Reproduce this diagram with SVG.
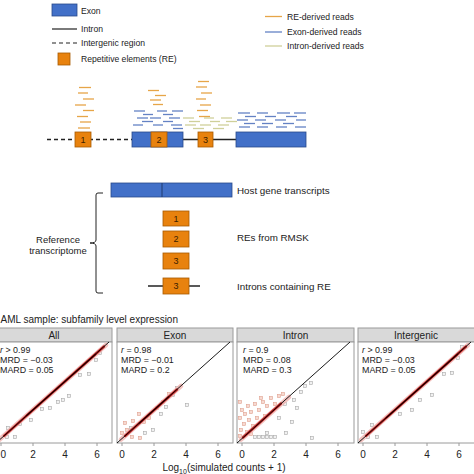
<svg xmlns="http://www.w3.org/2000/svg" width="474" height="474" viewBox="0 0 474 474">
<style>
text{font-family:"Liberation Sans",Arial,sans-serif;fill:#222}
.lg{font-size:8.6px}
.md{font-size:9.8px}
.st{font-size:8.9px}
.tk{font-size:10px;text-anchor:middle}
.strip{font-size:10px;text-anchor:middle}
.exon{fill:#4270c8;stroke:#2a4a8a;stroke-width:0.8}
.re{fill:#e8820e;stroke:#a85a00;stroke-width:0.8}
.ren{font-size:9px;text-anchor:middle;fill:#3a2000}
.rr{stroke:#e6a548;stroke-width:1.3}
.er{stroke:#6482c4;stroke-width:1.3}
.ir{stroke:#cfd09a;stroke-width:1.3}
.frame{fill:#fff;stroke:#9a9a9a;stroke-width:1}
.sbox{fill:#d9d9d9;stroke:#9a9a9a;stroke-width:1}
.pt{fill:#e4e4e4;fill-opacity:0.5;stroke:#a8a8a8;stroke-width:0.6}
.pk{fill:#f2c0b0;fill-opacity:0.6;stroke:#e0a090;stroke-width:0.6}
.band1{stroke:#f0b4b0;stroke-width:4.5;stroke-linecap:round;fill:none;opacity:0.8}
.band2{stroke:#b82020;stroke-width:2.4;stroke-linecap:round;fill:none}
.band3{stroke:#5a0000;stroke-width:1.3;fill:none}
.diag{stroke:#000;stroke-width:0.9}
.tick{stroke:#9a9a9a;stroke-width:1}
</style>

<g id="legend-left">
  <rect class="exon" x="52" y="4" width="25" height="12"/>
  <text class="lg" x="81" y="14">Exon</text>
  <line x1="52" y1="29" x2="77" y2="29" stroke="#222" stroke-width="1.2"/>
  <text class="lg" x="81" y="32">Intron</text>
  <line x1="52" y1="43" x2="77" y2="43" stroke="#222" stroke-width="1.2" stroke-dasharray="4,3"/>
  <text class="lg" x="81" y="46">Intergenic region</text>
  <rect class="re" x="58" y="53" width="12" height="12"/>
  <text class="lg" x="81" y="62">Repetitive elements (RE)</text>
</g>

<g id="legend-right">
  <line class="rr" x1="265" y1="16.5" x2="282" y2="16.5"/>
  <text class="lg" x="287" y="19.5">RE-derived reads</text>
  <line class="er" x1="265" y1="32" x2="282" y2="32"/>
  <text class="lg" x="287" y="35">Exon-derived reads</text>
  <line class="ir" x1="265" y1="46" x2="282" y2="46"/>
  <text class="lg" x="287" y="49">Intron-derived reads</text>
</g>

<g id="connectors">
  <line x1="47" y1="139.5" x2="132" y2="139.5" stroke="#222" stroke-width="1.3" stroke-dasharray="4,3"/>
  <line x1="183" y1="139.5" x2="236" y2="139.5" stroke="#222" stroke-width="1.3"/>
  <line x1="148" y1="286" x2="200" y2="286" stroke="#222" stroke-width="1.3"/>
  <path d="M103,193 L98,193 Q96,193 96,195 L96,240 Q96,243 90,243 Q96,243 96,246 L96,291 Q96,293 98,293 L103,293" fill="none" stroke="#222" stroke-width="1"/>
</g>

<g id="gene-structure">
  <rect class="exon" x="132" y="132" width="51" height="15"/>
  <rect class="exon" x="236" y="132" width="70" height="15"/>
  <g id="re1"><rect class="re" x="75" y="132" width="16" height="15"/><text class="ren" x="83" y="142.8">1</text></g>
  <g id="re2"><rect class="re" x="151" y="132" width="16" height="15"/><text class="ren" x="159" y="142.8">2</text></g>
  <g id="re3"><rect class="re" x="198" y="132" width="15" height="15"/><text class="ren" x="205.5" y="142.8">3</text></g>
</g>

<g id="reads">
  <g class="rr">
    <line x1="79" y1="87.5" x2="91" y2="87.5"/><line x1="78" y1="93" x2="88" y2="93"/>
    <line x1="83" y1="99" x2="94" y2="99"/><line x1="75" y1="105" x2="86" y2="105"/>
    <line x1="83" y1="110.5" x2="94" y2="110.5"/><line x1="77" y1="116.5" x2="88" y2="116.5"/>
    <line x1="80" y1="122" x2="91" y2="122"/><line x1="78" y1="128" x2="90" y2="128"/>
    <line x1="148" y1="90.5" x2="159" y2="90.5"/><line x1="155" y1="95.5" x2="166" y2="95.5"/>
    <line x1="150" y1="100" x2="161" y2="100"/><line x1="153" y1="104.5" x2="163" y2="104.5"/>
    <line x1="198" y1="81.5" x2="209" y2="81.5"/><line x1="196" y1="87" x2="207" y2="87"/>
    <line x1="201" y1="93" x2="212" y2="93"/><line x1="196" y1="99" x2="206" y2="99"/>
    <line x1="200" y1="105" x2="211" y2="105"/><line x1="197" y1="110.5" x2="208" y2="110.5"/>
    <line x1="199" y1="116.5" x2="210" y2="116.5"/>
  </g>
  <g class="er">
    <line x1="134" y1="111" x2="145" y2="111"/><line x1="157" y1="111" x2="167" y2="111"/><line x1="172" y1="111" x2="183" y2="111"/>
    <line x1="143" y1="114.5" x2="153" y2="114.5"/><line x1="163" y1="114.5" x2="173" y2="114.5"/>
    <line x1="137" y1="118" x2="148" y2="118"/><line x1="150" y1="118" x2="161" y2="118"/><line x1="169" y1="118" x2="180" y2="118"/>
    <line x1="142" y1="121.5" x2="153" y2="121.5"/><line x1="163" y1="121.5" x2="173" y2="121.5"/>
    <line x1="133" y1="125" x2="143" y2="125"/><line x1="153" y1="125" x2="163" y2="125"/><line x1="171" y1="125" x2="182" y2="125"/>
    <line x1="173" y1="128.5" x2="183" y2="128.5"/>
    <line x1="238" y1="113" x2="250" y2="113"/><line x1="257" y1="113" x2="268" y2="113"/><line x1="277" y1="113" x2="290" y2="113"/><line x1="294" y1="113" x2="306" y2="113"/>
    <line x1="245" y1="116.5" x2="256" y2="116.5"/><line x1="265" y1="116.5" x2="276" y2="116.5"/><line x1="286" y1="116.5" x2="297" y2="116.5"/>
    <line x1="237" y1="120" x2="248" y2="120"/><line x1="255" y1="120" x2="266" y2="120"/><line x1="275" y1="120" x2="286" y2="120"/><line x1="296" y1="120" x2="306" y2="120"/>
    <line x1="244" y1="123.5" x2="255" y2="123.5"/><line x1="262" y1="123.5" x2="273" y2="123.5"/><line x1="283" y1="123.5" x2="294" y2="123.5"/>
    <line x1="239" y1="127" x2="250" y2="127"/><line x1="257" y1="127" x2="268" y2="127"/><line x1="276" y1="127" x2="287" y2="127"/><line x1="295" y1="127" x2="306" y2="127"/>
  </g>
  <g class="ir">
    <line x1="183" y1="118" x2="194" y2="118"/><line x1="204" y1="118" x2="214" y2="118"/><line x1="221" y1="118" x2="232" y2="118"/>
    <line x1="189" y1="121.5" x2="200" y2="121.5"/><line x1="210" y1="121.5" x2="220" y2="121.5"/><line x1="226" y1="121.5" x2="237" y2="121.5"/>
    <line x1="185" y1="125" x2="196" y2="125"/><line x1="200" y1="125" x2="211" y2="125"/><line x1="218" y1="125" x2="229" y2="125"/>
    <line x1="193" y1="128.5" x2="204" y2="128.5"/><line x1="213" y1="128.5" x2="224" y2="128.5"/>
  </g>
</g>

<g id="reference">
  <g id="host-transcript">
    <rect class="exon" x="111" y="183" width="121" height="14"/>
    <line x1="162" y1="183" x2="162" y2="197" stroke="#1e3a70" stroke-width="1"/>
    <text class="md" x="237" y="194">Host gene transcripts</text>
  </g>
  <g id="rmsk">
    <rect class="re" x="163" y="211" width="26" height="15"/><text class="ren" x="176" y="221.8">1</text>
    <rect class="re" x="163" y="231" width="26" height="16"/><text class="ren" x="176" y="242.3">2</text>
    <rect class="re" x="163" y="253" width="26" height="16"/><text class="ren" x="176" y="264.3">3</text>
    <text class="md" x="237" y="240.5">REs from RMSK</text>
  </g>
  <g id="intron-re">
    <rect class="re" x="163" y="278" width="26" height="16"/><text class="ren" x="176" y="289.3">3</text>
    <text class="md" x="237" y="290">Introns containing RE</text>
  </g>
  <g id="ref-label">
    <text class="md" x="58" y="242.5" text-anchor="middle" style="font-size:9.5px">Reference</text>
    <text class="md" x="58" y="254" text-anchor="middle" style="font-size:9.5px">transcriptome</text>
  </g>
</g>

<g id="scatter">
  <text x="0.5" y="323" style="font-size:10px">AML sample: subfamily level expression</text>

  <g id="panel-all" transform="translate(-4,342)">
    <rect class="sbox" x="0" y="-14" width="116" height="14"/>
    <text class="strip" x="58" y="-3.5">All</text>
    <rect class="frame" x="0" y="0" width="116" height="101"/>
    <g class="pt">
      <rect x="91.5" y="30.5" width="3" height="3"/><rect x="71.5" y="52.5" width="3" height="3"/>
      <rect x="65.5" y="56.5" width="3" height="3"/><rect x="60.5" y="58.5" width="3" height="3"/>
      <rect x="52.5" y="64.5" width="3" height="3"/><rect x="44.5" y="65.5" width="3" height="3"/>
      <rect x="10.5" y="84.5" width="3" height="3"/><rect x="17.5" y="93.5" width="3" height="3"/>
      <rect x="9.5" y="93.5" width="3" height="3"/><rect x="102.5" y="9.5" width="3" height="3"/>
      <rect x="22.5" y="80.5" width="3" height="3"/><rect x="82.5" y="31.5" width="3" height="3"/>
      <rect x="98.5" y="16.5" width="3" height="3"/><rect x="33.5" y="76.5" width="3" height="3"/>
    </g>
    <path class="band1" d="M3,98 L110,3"/>
    <path class="band2" d="M8,93.8 L108,4.5"/>
    <path class="band3" d="M30,74 L100,12"/>
    <line class="diag" x1="0" y1="101" x2="113" y2="0"/>
    <text class="st" x="4" y="11"><tspan font-style="italic">r</tspan> &gt; 0.99</text>
    <text class="st" x="4" y="21">MRD = −0.03</text>
    <text class="st" x="4" y="31">MARD = 0.05</text>
    <g class="tick"><line x1="5" y1="101" x2="5" y2="104"/><line x1="37" y1="101" x2="37" y2="104"/><line x1="69" y1="101" x2="69" y2="104"/><line x1="101" y1="101" x2="101" y2="104"/></g>
    <text x="4.5" y="116" style="font-size:10px">0</text><text class="tk" x="37" y="116">2</text><text class="tk" x="69" y="116">4</text><text class="tk" x="101" y="116">6</text>
  </g>

  <g id="panel-exon" transform="translate(117,342)">
    <rect class="sbox" x="0" y="-14" width="116" height="14"/>
    <text class="strip" x="58" y="-3.5">Exon</text>
    <rect class="frame" x="0" y="0" width="116" height="101"/>
    <g class="pk">
      <rect x="6.5" y="79.5" width="3" height="3"/><rect x="8.5" y="86.5" width="3" height="3"/>
      <rect x="3.5" y="89.5" width="3" height="3"/><rect x="13.5" y="93.5" width="3" height="3"/>
      <rect x="21.5" y="94.5" width="3" height="3"/><rect x="14.5" y="77.5" width="3" height="3"/>
      <rect x="20.5" y="70.5" width="3" height="3"/><rect x="25.5" y="78.5" width="3" height="3"/>
      <rect x="30.5" y="74.5" width="3" height="3"/><rect x="38.5" y="64.5" width="3" height="3"/>
      <rect x="44.5" y="58.5" width="3" height="3"/><rect x="50.5" y="50.5" width="3" height="3"/>
    </g>
    <g class="pt">
      <rect x="68.5" y="61.5" width="3" height="3"/><rect x="54.5" y="51.5" width="3" height="3"/>
      <rect x="34.5" y="86.5" width="3" height="3"/><rect x="12.5" y="84.5" width="3" height="3"/>
      <rect x="58.5" y="44.5" width="3" height="3"/><rect x="47.5" y="63.5" width="3" height="3"/>
      <rect x="26.5" y="89.5" width="3" height="3"/><rect x="42.5" y="70.5" width="3" height="3"/>
    </g>
    <path class="band1" d="M4,97.5 L64,44"/>
    <path class="band2" d="M8,94 L60,47.5"/>
    <path class="band3" d="M22,81.5 L52,54.5"/>
    <line class="diag" x1="0" y1="101" x2="113" y2="0"/>
    <text class="st" x="4" y="11"><tspan font-style="italic">r</tspan> = 0.98</text>
    <text class="st" x="4" y="21">MRD = −0.01</text>
    <text class="st" x="4" y="31">MARD = 0.2</text>
    <g class="tick"><line x1="5" y1="101" x2="5" y2="104"/><line x1="37" y1="101" x2="37" y2="104"/><line x1="69" y1="101" x2="69" y2="104"/><line x1="101" y1="101" x2="101" y2="104"/></g>
    <text class="tk" x="5" y="116">0</text><text class="tk" x="37" y="116">2</text><text class="tk" x="69" y="116">4</text><text class="tk" x="101" y="116">6</text>
  </g>

  <g id="panel-intron" transform="translate(237,342)">
    <rect class="sbox" x="0" y="-14" width="117" height="14"/>
    <text class="strip" x="58.5" y="-3.5">Intron</text>
    <rect class="frame" x="0" y="0" width="117" height="101"/>
    <g class="pk">
      <rect x="1.5" y="58.5" width="3" height="3"/><rect x="3.5" y="66.5" width="3" height="3"/>
      <rect x="1.5" y="74.5" width="3" height="3"/><rect x="6.5" y="70.5" width="3" height="3"/>
      <rect x="9.5" y="62.5" width="3" height="3"/><rect x="12.5" y="68.5" width="3" height="3"/>
      <rect x="16.5" y="60.5" width="3" height="3"/><rect x="20.5" y="66.5" width="3" height="3"/>
      <rect x="24.5" y="58.5" width="3" height="3"/><rect x="28.5" y="62.5" width="3" height="3"/>
      <rect x="5.5" y="80.5" width="3" height="3"/><rect x="10.5" y="76.5" width="3" height="3"/>
      <rect x="14.5" y="82.5" width="3" height="3"/><rect x="18.5" y="74.5" width="3" height="3"/>
      <rect x="2.5" y="86.5" width="3" height="3"/><rect x="8.5" y="88.5" width="3" height="3"/>
      <rect x="32.5" y="54.5" width="3" height="3"/><rect x="36.5" y="60.5" width="3" height="3"/>
      <rect x="40.5" y="52.5" width="3" height="3"/><rect x="22.5" y="54.5" width="3" height="3"/>
      <rect x="26.5" y="72.5" width="3" height="3"/><rect x="44.5" y="50.5" width="3" height="3"/>
      <rect x="1.5" y="92.5" width="3" height="3"/><rect x="12.5" y="90.5" width="3" height="3"/>
    </g>
    <g class="pt">
      <rect x="53.5" y="78.5" width="3" height="3"/><rect x="47.5" y="89.5" width="3" height="3"/>
      <rect x="73.5" y="94.5" width="3" height="3"/><rect x="28.5" y="89.5" width="3" height="3"/>
      <rect x="16.5" y="93.5" width="3" height="3"/><rect x="20.5" y="93.5" width="3" height="3"/>
      <rect x="24.5" y="93.5" width="3" height="3"/><rect x="28.5" y="93.5" width="3" height="3"/>
      <rect x="32.5" y="93.5" width="3" height="3"/><rect x="36.5" y="93.5" width="3" height="3"/>
      <rect x="62.5" y="48.5" width="3" height="3"/><rect x="72.5" y="39.5" width="3" height="3"/>
      <rect x="55.5" y="56.5" width="3" height="3"/><rect x="66.5" y="42.5" width="3" height="3"/>
      <rect x="46.5" y="60.5" width="3" height="3"/><rect x="58.5" y="64.5" width="3" height="3"/>
      <rect x="40.5" y="74.5" width="3" height="3"/>
    </g>
    <path class="band1" d="M4,97.5 L52,55"/>
    <path class="band2" d="M6,95.5 L44,61.5"/>
    <line class="diag" x1="0" y1="101" x2="113" y2="0"/>
    <text class="st" x="6" y="11"><tspan font-style="italic">r</tspan> = 0.9</text>
    <text class="st" x="6" y="21">MRD = 0.08</text>
    <text class="st" x="6" y="31">MARD = 0.3</text>
    <g class="tick"><line x1="5" y1="101" x2="5" y2="104"/><line x1="37" y1="101" x2="37" y2="104"/><line x1="69" y1="101" x2="69" y2="104"/><line x1="101" y1="101" x2="101" y2="104"/></g>
    <text class="tk" x="5" y="116">0</text><text class="tk" x="37" y="116">2</text><text class="tk" x="69" y="116">4</text><text class="tk" x="101" y="116">6</text>
  </g>

  <g id="panel-intergenic" transform="translate(358,342)">
    <rect class="sbox" x="0" y="-14" width="118" height="14"/>
    <text class="strip" x="58" y="-3.5">Intergenic</text>
    <rect class="frame" x="0" y="0" width="118" height="101"/>
    <g class="pt">
      <rect x="92.5" y="29.5" width="3" height="3"/><rect x="72.5" y="51.5" width="3" height="3"/>
      <rect x="60.5" y="56.5" width="3" height="3"/><rect x="52.5" y="66.5" width="3" height="3"/>
      <rect x="12.5" y="81.5" width="3" height="3"/><rect x="17.5" y="93.5" width="3" height="3"/>
      <rect x="8.5" y="93.5" width="3" height="3"/><rect x="3.5" y="88.5" width="3" height="3"/>
      <rect x="102.5" y="3.5" width="3" height="3"/><rect x="84.5" y="30.5" width="3" height="3"/>
      <rect x="40.5" y="70.5" width="3" height="3"/><rect x="98.5" y="14.5" width="3" height="3"/>
    </g>
    <path class="band1" d="M3,98 L110,3"/>
    <path class="band2" d="M8,93.8 L108,4.5"/>
    <path class="band3" d="M28,76 L100,12"/>
    <line class="diag" x1="0" y1="101" x2="113" y2="0"/>
    <text class="st" x="4" y="11"><tspan font-style="italic">r</tspan> &gt; 0.99</text>
    <text class="st" x="4" y="21">MRD = −0.03</text>
    <text class="st" x="4" y="31">MARD = 0.05</text>
    <g class="tick"><line x1="5" y1="101" x2="5" y2="104"/><line x1="37" y1="101" x2="37" y2="104"/><line x1="69" y1="101" x2="69" y2="104"/><line x1="101" y1="101" x2="101" y2="104"/></g>
    <text class="tk" x="5" y="116">0</text><text class="tk" x="37" y="116">2</text><text class="tk" x="69" y="116">4</text><text class="tk" x="101" y="116">6</text>
  </g>

  <text x="224" y="471" text-anchor="middle" style="font-size:10px">Log<tspan font-size="7px" dy="2.5">10</tspan><tspan dy="-2.5">(simulated counts + 1)</tspan></text>
</g>
</svg>
